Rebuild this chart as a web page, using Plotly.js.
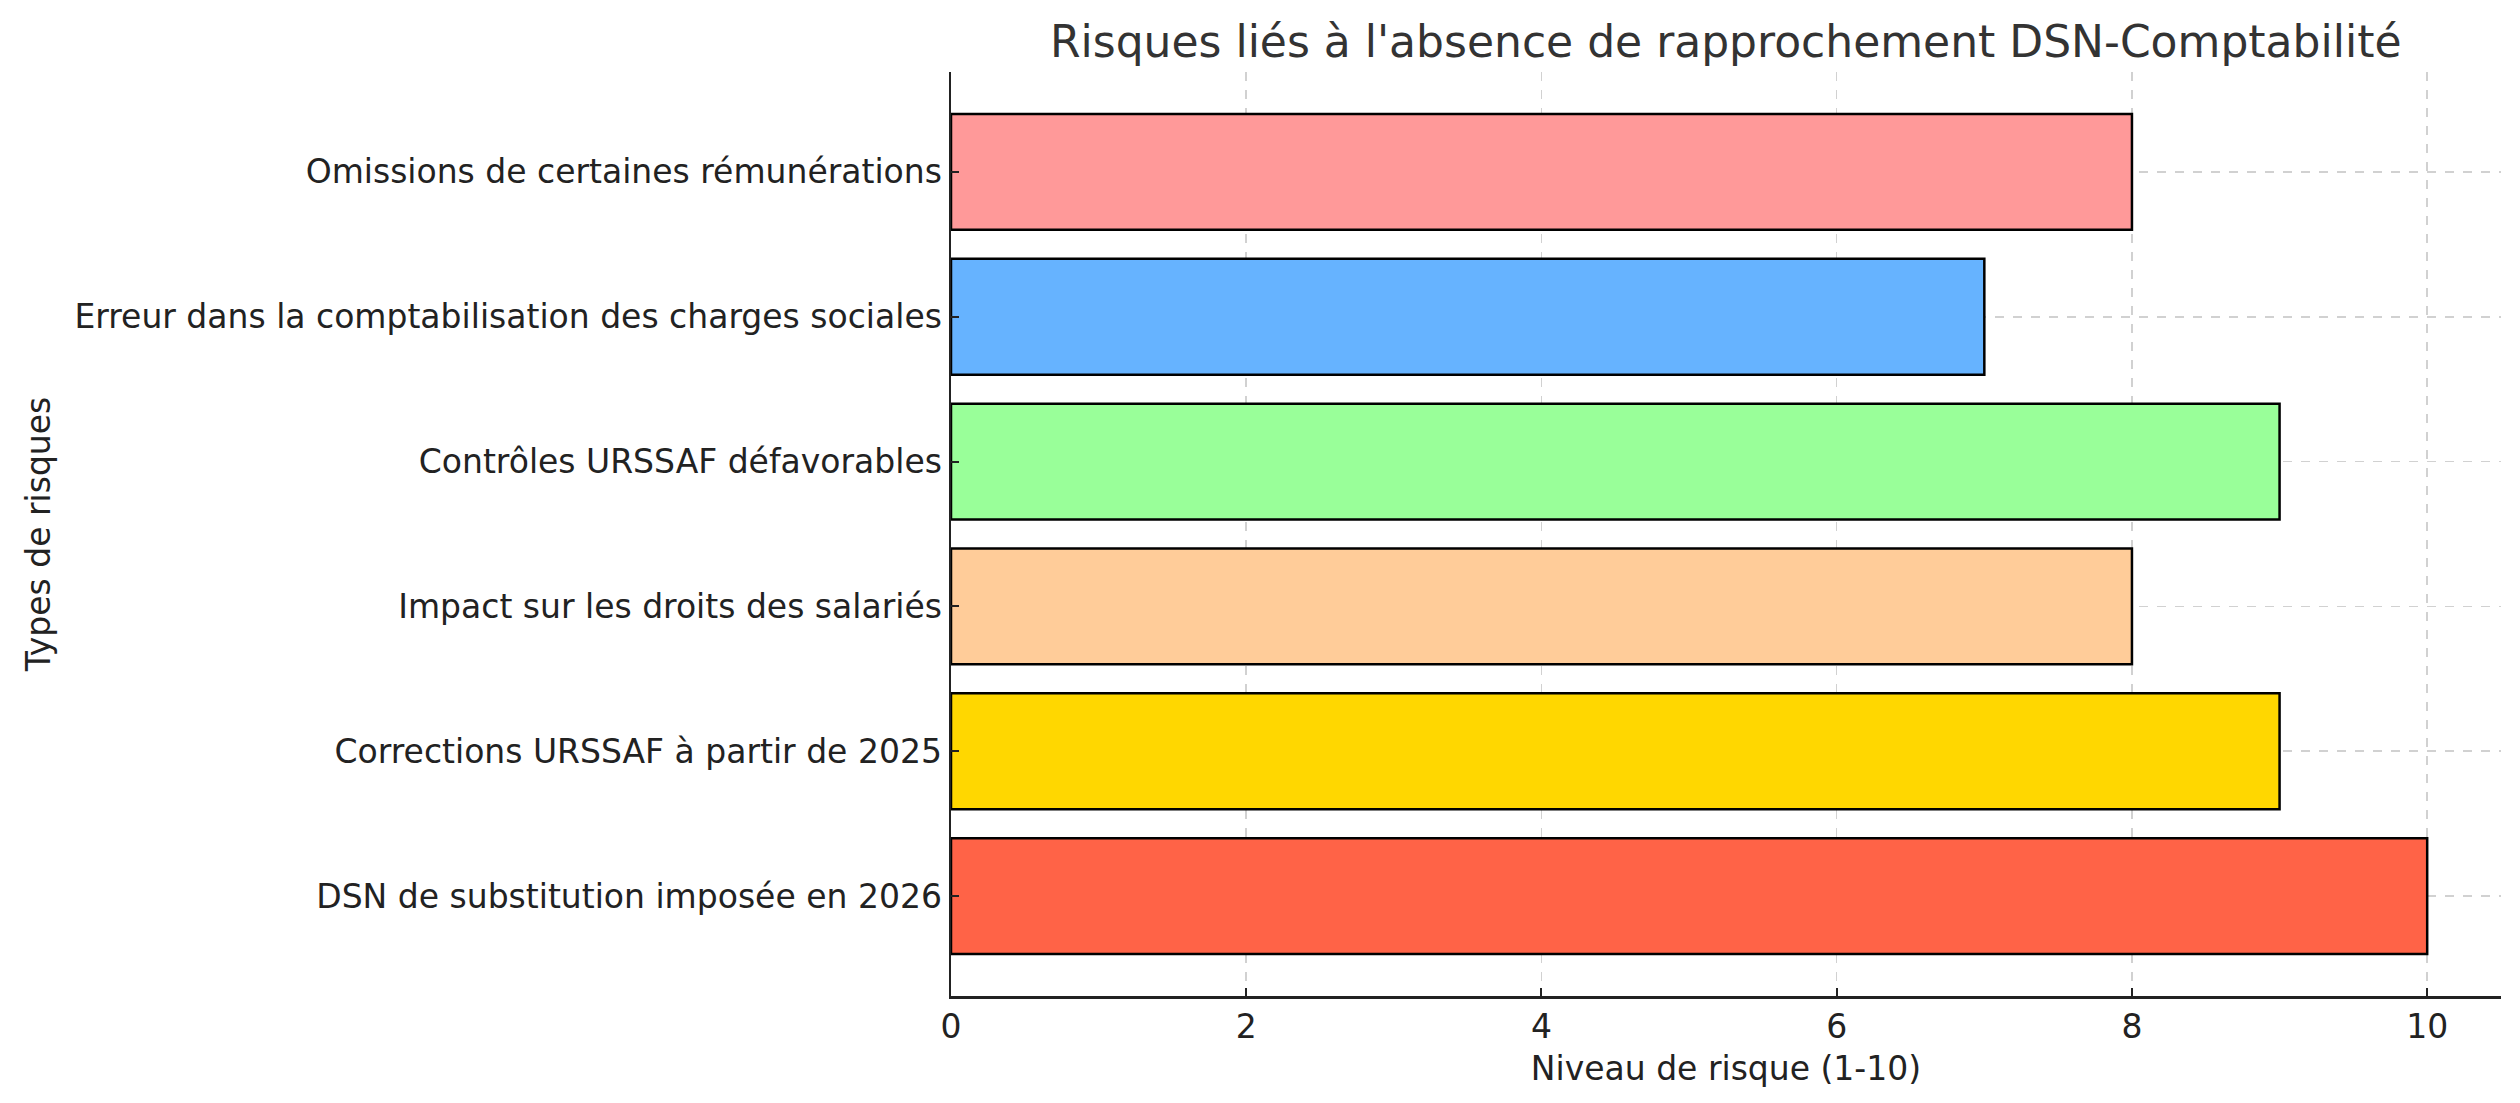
<!DOCTYPE html>
<html>
<head>
<meta charset="utf-8">
<script src="https://cdn.plot.ly/plotly-3.0.1.min.js"></script>
<style>
  html, body { margin: 0; padding: 0; background: #fff; }
  #chart { width: 2520px; height: 1103px; }
</style>
</head>
<body>
<div id="chart"></div>
<script>
// categories listed bottom to top, like the reference
const risks = [
  "DSN de substitution imposée en 2026",
  "Corrections URSSAF à partir de 2025",
  "Impact sur les droits des salariés",
  "Contrôles URSSAF défavorables",
  "Erreur dans la comptabilisation des charges sociales",
  "Omissions de certaines rémunérations"
];
const riskLevels = [10, 9, 8, 9, 7, 8];
const barColors = ["#FF6347", "#FFD700", "#FFCC99", "#99FF99", "#66B3FF", "#FF9999"];
const xTicks = [0, 2, 4, 6, 8, 10];

const font = "DejaVu Sans, sans-serif";

const bars = {
  type: "bar",
  orientation: "h",
  x: riskLevels,
  y: risks,
  width: 0.8,
  marker: {
    color: barColors,
    line: { color: "#000000", width: 2.5 }
  },
  hoverinfo: "x+y"
};

const layout = {
  width: 2520,
  height: 1103,
  paper_bgcolor: "#ffffff",
  plot_bgcolor: "#ffffff",
  showlegend: false,
  margin: { l: 951, r: 19, t: 72, b: 107 },
  font: { family: font, size: 33, color: "#222222" },
  title: {
    text: "Risques liés à l'absence de rapprochement DSN-Comptabilité",
    font: { family: font, size: 44, color: "#333333" },
    x: 0.6848,
    xanchor: "center",
    y: 0.962,
    yanchor: "middle"
  },
  xaxis: {
    range: [0, 10.5],
    tickvals: xTicks,
    ticks: "inside",
    ticklen: 8,
    tickwidth: 2,
    tickcolor: "#222222",
    showline: true,
    linecolor: "#222222",
    linewidth: 2.5,
    showgrid: true,
    gridcolor: "rgba(0,0,0,0.18)",
    gridwidth: 1.5,
    griddash: "dash",
    zeroline: false,
    tickfont: { family: font, size: 33, color: "#222222" },
    title: { text: "Niveau de risque (1-10)", font: { family: font, size: 33, color: "#222222" }, standoff: 12 }
  },
  yaxis: {
    type: "category",
    range: [-0.69, 5.69],
    ticks: "inside",
    ticklen: 8,
    tickwidth: 2,
    tickcolor: "#222222",
    showline: true,
    linecolor: "#222222",
    linewidth: 2.5,
    showgrid: true,
    gridcolor: "rgba(0,0,0,0.18)",
    gridwidth: 1.5,
    griddash: "dash",
    zeroline: false,
    automargin: false,
    tickfont: { family: font, size: 33, color: "#222222" },
    title: { text: "Types de risques", font: { family: font, size: 33, color: "#222222" }, standoff: 14 }
  },
  bargap: 0.2
};

Plotly.newPlot("chart", [bars], layout, { displayModeBar: false, staticPlot: true });
</script>
</body>
</html>
